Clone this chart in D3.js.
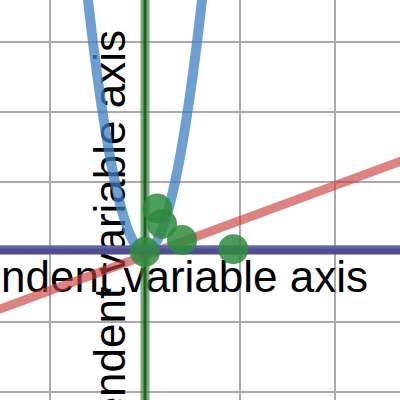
<!DOCTYPE html>
<html><head><meta charset="utf-8">
<script src="https://cdn.jsdelivr.net/npm/d3@7"></script>
<style>body{margin:0;background:#fff}</style>
</head><body>
<svg id="c" width="400" height="400"></svg>
<script>
var W = 400, H = 400;
var xTicks = [-1, 0, 1, 2];
var yTicks = [-2, -1, 0, 1, 2, 3];
var ptX = [0, 0.13, 0.18, 0.39, 0.93];
var ptY = [0, 0.62, 0.4, 0.17, 0.04];
var parabolaX = d3.range(-0.7, 0.72, 0.02);
var lineX = [-1.6, 2.8];

var x = d3.scaleLinear().domain([-145 / 95, (400 - 145) / 95]).range([0, W]);
var y = d3.scaleLinear().domain([-(400 - 252) / 70, 252 / 70]).range([H, 0]);

var svg = d3.select('#c');

// grid
svg.selectAll('.gx').data(xTicks).enter().append('line')
  .attr('x1', d => x(d)).attr('x2', d => x(d)).attr('y1', 0).attr('y2', H)
  .attr('stroke', '#aaa').attr('stroke-width', 2);
svg.selectAll('.gy').data(yTicks).enter().append('line')
  .attr('y1', d => y(d)).attr('y2', d => y(d)).attr('x1', 0).attr('x2', W)
  .attr('stroke', '#aaa').attr('stroke-width', 2);

// labels (cut off by the edges, as in the reference)
svg.append('text').attr('x', 368).attr('y', 292).attr('text-anchor', 'end')
  .style('font-family', 'Liberation Sans, Arial').style('font-size', '44px')
  .text('Independent variable axis');
svg.append('text').attr('transform', 'translate(125,30) rotate(-90)').attr('text-anchor', 'end')
  .style('font-family', 'Liberation Sans, Arial').style('font-size', '44px')
  .text('Dependent variable axis');

// axes lines
svg.append('line').attr('x1', x(0)).attr('x2', x(0)).attr('y1', 0).attr('y2', H)
  .attr('stroke', '#3a8a3f').attr('stroke-opacity', 0.7).attr('stroke-width', 9);
svg.append('line').attr('x1', x(0)).attr('x2', x(0)).attr('y1', 0).attr('y2', H)
  .attr('stroke', '#1f5e25').attr('stroke-width', 3);

// parabola
svg.append('path').datum(parabolaX)
  .attr('d', d3.line().x(d => x(d)).y(d => y(10 * d * d)))
  .attr('fill', 'none').attr('stroke', '#3d7fc1').attr('stroke-opacity', 0.75).attr('stroke-width', 10);

// red line
svg.append('path').datum(lineX)
  .attr('d', d3.line().x(d => x(d)).y(d => y(0.5 * d - 0.05)))
  .attr('fill', 'none').attr('stroke', '#c9403e').attr('stroke-opacity', 0.65).attr('stroke-width', 9);

// purple axis
svg.append('line').attr('x1', 0).attr('x2', W).attr('y1', 250).attr('y2', 250)
  .attr('stroke', '#4b4f8f').attr('stroke-width', 9);
svg.append('line').attr('x1', 0).attr('x2', W).attr('y1', 247).attr('y2', 247)
  .attr('stroke', '#7a6fb8').attr('stroke-opacity', 0.6).attr('stroke-width', 3);

// points
svg.selectAll('.pt').data(ptX).enter().append('circle')
  .attr('cx', d => x(d)).attr('cy', (d, i) => y(ptY[i]))
  .attr('r', 15).attr('fill', '#2e8b3e').attr('fill-opacity', 0.85);
</script>
</body></html>
